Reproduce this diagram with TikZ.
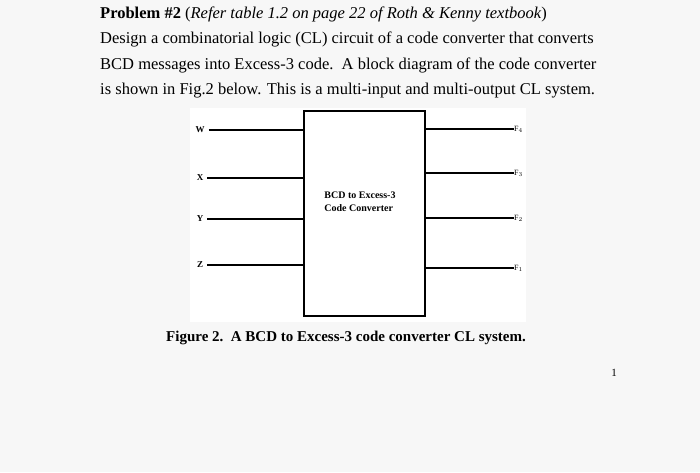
\documentclass[tikz,border=0pt]{standalone}
\usepackage{fontspec}
\setmainfont{Liberation Serif}
\begin{document}
\begin{tikzpicture}[x=1pt,y=-1pt,
 body/.style={anchor=base west,inner sep=0pt,font=\fontsize{16.5}{18}\selectfont},
 pin/.style={font=\fontsize{9}{10}\selectfont\bfseries,inner sep=0pt},
 wire/.style={line width=1.4pt}]
\useasboundingbox (0,0) rectangle (700,472);
\fill[black!3] (0,0) rectangle (700,472);
\fill[white] (190,108) rectangle (526,322);
\node[body] (t1) at (100,18) {\textbf{Problem \#2} (\textit{Refer table 1.2 on page 22 of Roth \& Kenny textbook})};
\node[body] (t2) at (100,43) {Design a combinatorial logic (CL) circuit of a code converter that converts};
\node[body] (t3) at (100,69) {BCD messages into Excess-3 code.\ \ A block diagram of the code converter};
\node[body] (t4) at (100,94) {is shown in Fig.2 below. This is a multi-input and multi-output CL system.};
\draw[wire] (304,111) rectangle (425,316);
\node[align=left,font=\fontsize{10}{13}\selectfont\bfseries,inner sep=0pt] (box) at (360,202) {BCD to Excess-3\\Code Converter};
\foreach \n/\y in {W/130,X/178,Y/219,Z/265}{
  \node[pin] (\n) at (200,\y) {\n};
  \coordinate (\n e) at (304,\y);
  \draw[wire] (\n.east)++(4,0) coordinate (\n s);
  \draw[wire] (\n s) -- (\n e);
}
\foreach \n/\i/\y in {a/4/129,b/3/173,c/2/218,d/1/268}{
  \coordinate (\n s) at (425,\y);
  \node[pin,anchor=west,font=\fontsize{8}{9}\selectfont] (\n) at (514,\y) {F$_{\i}$};
  \draw[wire] (\n s) -- (\n.west);
}
\node[body,font=\fontsize{15}{18}\selectfont\bfseries] (cap) at (166,341) {Figure 2.\ \ A BCD to Excess-3 code converter CL system.};
\node[inner sep=0pt,font=\fontsize{11}{12}\selectfont] (pg) at (614,373) {1};
\end{tikzpicture}
\end{document}
